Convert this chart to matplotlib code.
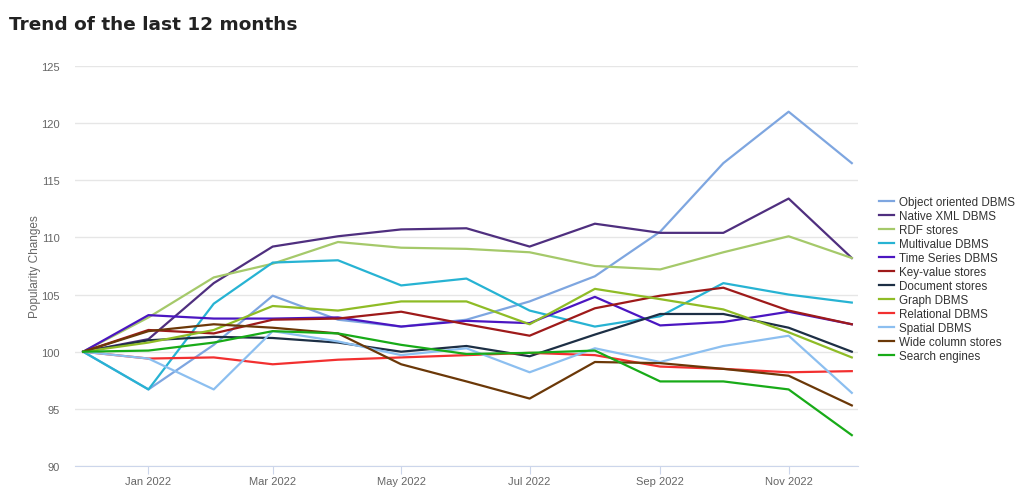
import pandas as pd
import matplotlib
matplotlib.use("Agg")
import matplotlib.pyplot as plt
import matplotlib.dates as mdates

# ===== Data (index = 100 at Dec 2021) =====
months = pd.date_range("2021-12-01", "2022-12-01", freq="MS")

object_oriented = [100, 96.7, 100.6, 104.9, 102.8, 102.2, 102.8, 104.4, 106.6, 110.5, 116.5, 121.0, 116.5]
native_xml = [100, 101.1, 106.0, 109.2, 110.1, 110.7, 110.8, 109.2, 111.2, 110.4, 110.4, 113.4, 108.2]
rdf_stores = [100, 103.0, 106.5, 107.7, 109.6, 109.1, 109.0, 108.7, 107.5, 107.2, 108.7, 110.1, 108.2]
multivalue = [100, 96.7, 104.2, 107.8, 108.0, 105.8, 106.4, 103.6, 102.2, 103.1, 106.0, 105.0, 104.3]
time_series = [100, 103.2, 102.9, 102.9, 103.0, 102.2, 102.7, 102.5, 104.8, 102.3, 102.6, 103.5, 102.4]
key_value = [100, 101.9, 101.6, 102.8, 102.9, 103.5, 102.4, 101.4, 103.8, 104.9, 105.6, 103.6, 102.4]
document = [100, 101.0, 101.3, 101.2, 100.8, 100.0, 100.5, 99.6, 101.5, 103.3, 103.3, 102.1, 100.0]
graph = [100, 100.8, 101.9, 104.0, 103.6, 104.4, 104.4, 102.4, 105.5, 104.6, 103.7, 101.7, 99.5]
relational = [100, 99.4, 99.5, 98.9, 99.3, 99.5, 99.7, 99.9, 99.7, 98.7, 98.5, 98.2, 98.3]
spatial = [100, 99.4, 96.7, 101.8, 100.9, 99.7, 100.3, 98.2, 100.3, 99.1, 100.5, 101.4, 96.4]
wide_column = [100, 101.8, 102.4, 102.1, 101.6, 98.9, 97.4, 95.9, 99.1, 99.0, 98.5, 97.9, 95.3]
search_engines = [100, 100.1, 100.8, 101.8, 101.6, 100.6, 99.8, 99.9, 100.1, 97.4, 97.4, 96.7, 92.7]

series_names = [
    "Object oriented DBMS", "Native XML DBMS", "RDF stores", "Multivalue DBMS",
    "Time Series DBMS", "Key-value stores", "Document stores", "Graph DBMS",
    "Relational DBMS", "Spatial DBMS", "Wide column stores", "Search engines",
]
series_values = [
    object_oriented, native_xml, rdf_stores, multivalue, time_series, key_value,
    document, graph, relational, spatial, wide_column, search_engines,
]
colors = [
    "#7ea6e0", "#4f2f7f", "#a5c96a", "#27b3d3", "#4b16c1", "#9e1a1a",
    "#1d2f45", "#8fbc26", "#f23030", "#8cbff0", "#6b3808", "#18ab18",
]

plt.rcParams["font.family"] = ["Liberation Sans", "DejaVu Sans"]

fig = plt.figure(figsize=(10.24, 4.89), dpi=100)
ax = fig.add_axes([0.073, 0.045, 0.765, 0.818])

for name, vals, c in zip(series_names, series_values, colors):
    ax.plot(months, vals, color=c, linewidth=1.6, label=name)

# axes styling (Highcharts-like)
ax.set_ylim(90, 125)
ax.set_yticks(range(90, 126, 5))
ax.set_xlim(pd.Timestamp("2021-11-27"), pd.Timestamp("2022-12-04"))
ax.xaxis.set_major_locator(mdates.MonthLocator(bymonth=[1, 3, 5, 7, 9, 11]))
ax.xaxis.set_major_formatter(mdates.DateFormatter("%b %Y"))

ax.grid(axis="y", color="#e6e6e6", linewidth=1)
ax.set_axisbelow(True)
for side in ["top", "right", "left"]:
    ax.spines[side].set_visible(False)
ax.spines["bottom"].set_color("#ccd6eb")
ax.tick_params(axis="y", length=0, pad=11, labelsize=8, labelcolor="#666666")
ax.tick_params(axis="x", length=6, color="#ccd6eb", labelsize=8, labelcolor="#666666", pad=1)

ax.set_ylabel("Popularity Changes", fontsize=8.5, color="#666666", labelpad=0)

fig.text(0.009, 0.948, "Trend of the last 12 months", fontsize=13.3, fontweight="bold",
         color="#222222", family="DejaVu Sans", va="center")

fig.legend(loc="upper left", bbox_to_anchor=(0.854, 0.607), frameon=False,
           fontsize=8.4, handlelength=1.3, handletextpad=0.4, labelspacing=0.17,
           borderaxespad=0, labelcolor="#333333")

fig.savefig("out.png", dpi=100)
plt.close(fig)
